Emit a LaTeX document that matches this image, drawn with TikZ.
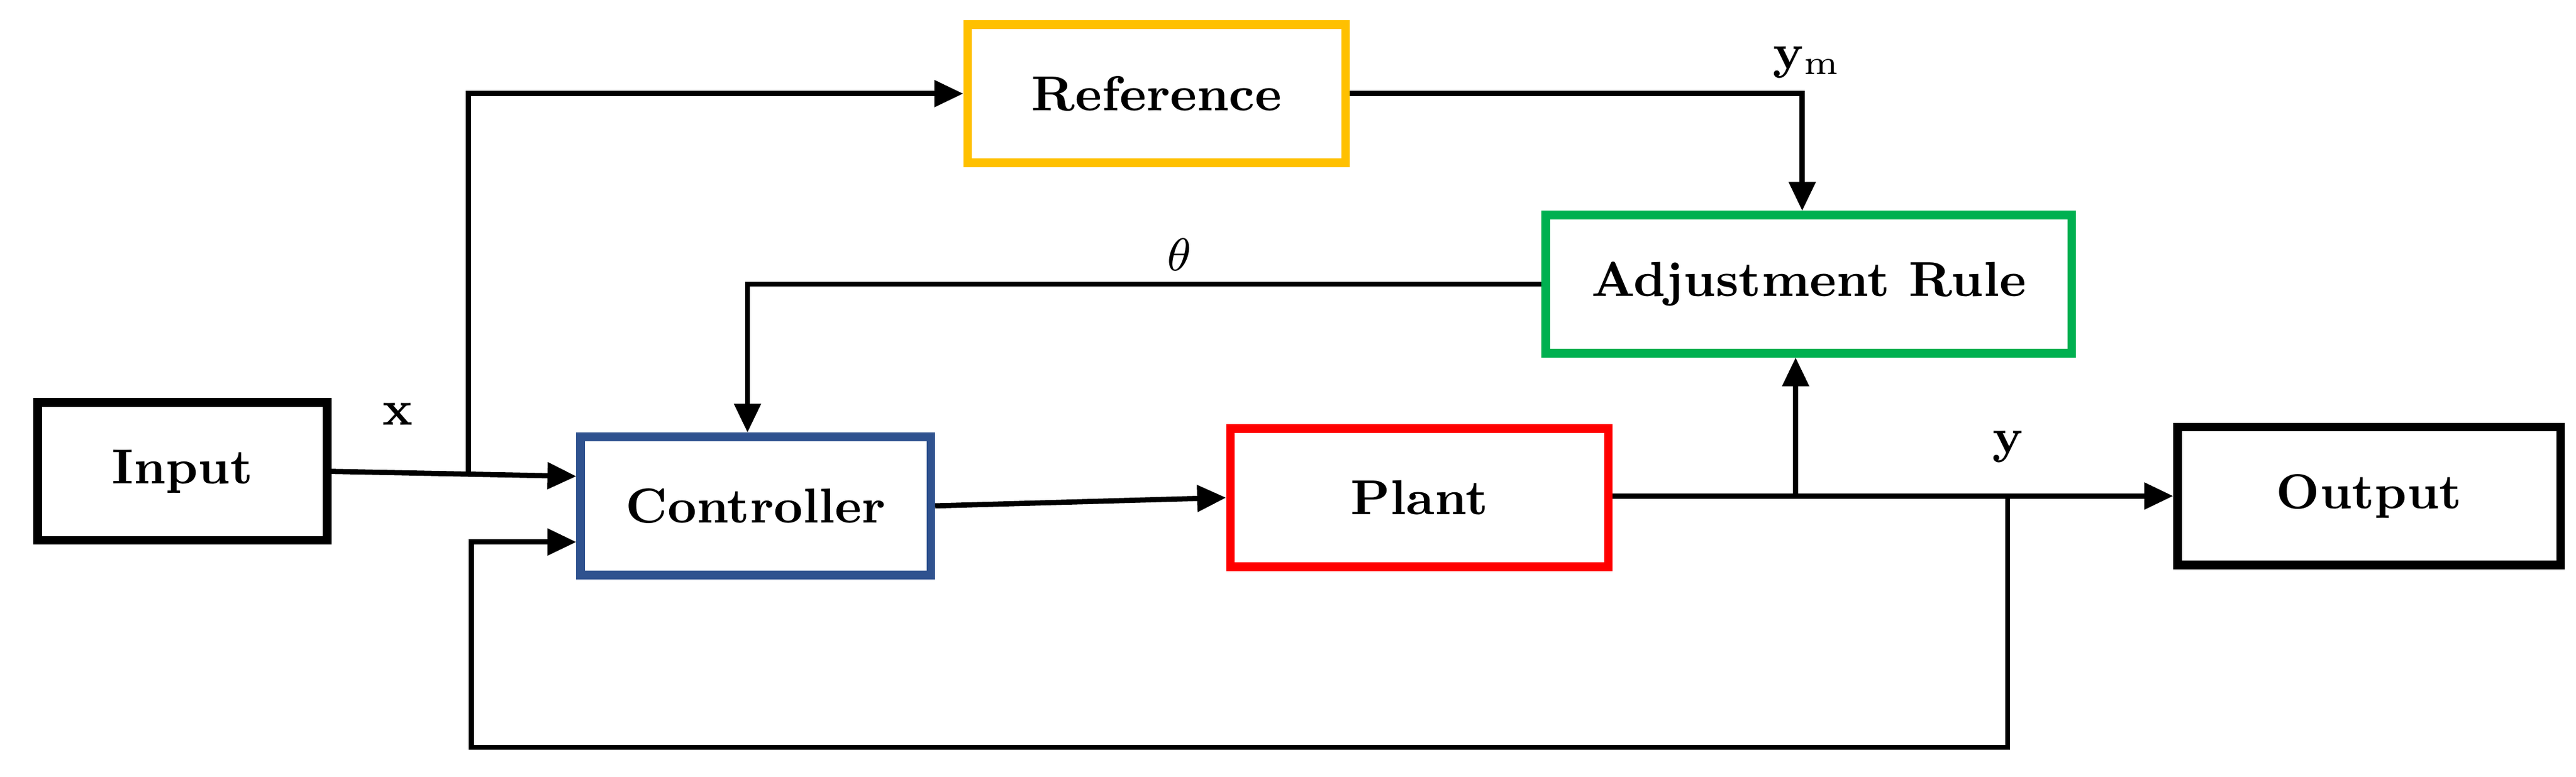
\documentclass[tikz,border=0pt]{standalone}
\usetikzlibrary{arrows.meta}
\begin{document}
\begin{tikzpicture}[x=0.01cm,y=-0.01cm,
  box/.style={draw,line width=1.5pt,minimum height=0.84cm,font=\fontsize{8.5}{10}\selectfont\bfseries,inner sep=0pt},
  ln/.style={line width=0.9pt},
  ar/.style={ln,-{Triangle[length=5pt,width=4.5pt]}},
  lb/.style={font=\fontsize{8.5}{10}\selectfont\bfseries}]
\useasboundingbox (0,0) rectangle (1568,473);
\node[box,minimum width=1.76cm] (in) at (111,287) {Input};
\node[box,draw={rgb,255:red,47;green,82;blue,143},minimum width=2.13cm] (c) at (460,308) {Controller};
\node[box,draw={rgb,255:red,255;green,192;blue,0},minimum width=2.3cm] (r) at (704,57) {Reference};
\node[box,draw={rgb,255:red,0;green,176;blue,80},minimum width=3.2cm] (a) at (1101,173) {Adjustment Rule};
\node[box,draw=red,minimum width=2.3cm] (p) at (864,303) {Plant};
\node[box,minimum width=2.33cm] (o) at (1442,302) {Output};
\coordinate (b1) at (285,288);
\coordinate (b2) at (1093,302);
\coordinate (b3) at (1222,302);
\draw[ar] (in.east) -- (c.west|-0,290);
\draw[ar] (b1) |- (r.west);
\draw[ar] (r.east) -| (a.north-|1097,0);
\draw[ar] (a.west) -| (c.north-|455,0);
\draw[ar] (c.east) -- (p.west);
\draw[ar] (p.east|-b2) -- (o.west|-b2);
\draw[ar] (b2) -- (a.south-|b2);
\draw[ar] (b3) -- (1222,455) -- (287,455) -- (287,330) -- (c.west|-0,330);
\node[lb] at (242,252) {x};
\node[lb] at (1100,38) {y$_{\mathrm m}$};
\node[lb] at (718,155) {$\theta$};
\node[lb] at (1222,272) {y};
\end{tikzpicture}
\end{document}
